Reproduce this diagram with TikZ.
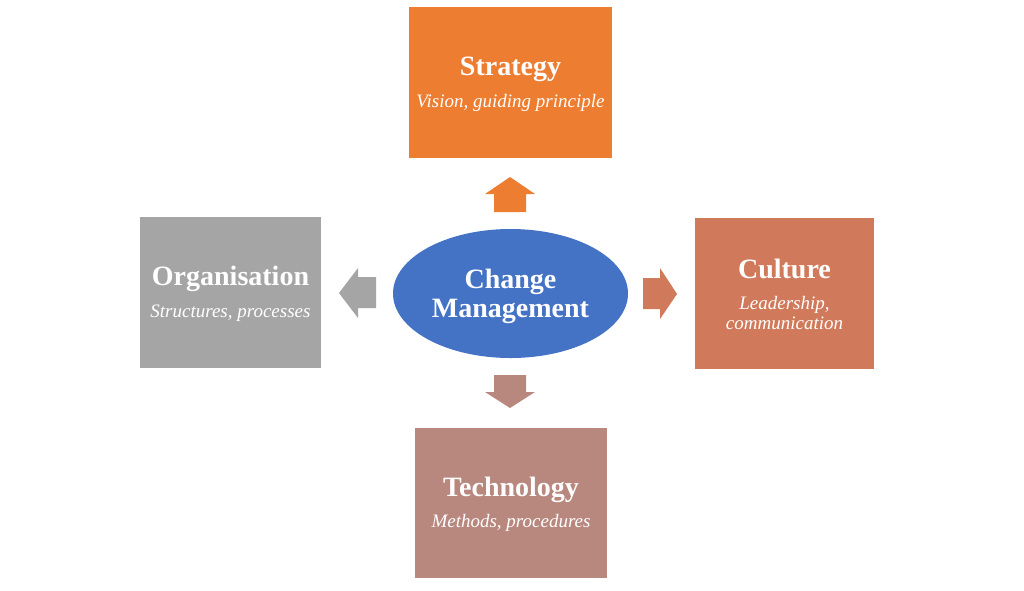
\documentclass[tikz,border=0pt]{standalone}
\usepackage{fontspec}
\setmainfont{Liberation Serif}
\usetikzlibrary{shapes.geometric}
\definecolor{cStrat}{HTML}{ED7D31}
\definecolor{cOrg}{HTML}{A5A5A5}
\definecolor{cCult}{HTML}{D07A5B}
\definecolor{cTech}{HTML}{B8887F}
\definecolor{cBlue}{HTML}{4472C4}
\tikzset{
  boxnode/.style={rectangle, inner sep=0pt, outer sep=0pt, draw=none},
  titletext/.style={anchor=base, text=white, inner sep=0pt, font=\fontsize{28}{30}\selectfont\bfseries},
  subtext/.style={anchor=base, text=white, inner sep=0pt, font=\fontsize{19}{20}\selectfont\itshape},
}
\begin{document}
\begin{tikzpicture}[x=1pt,y=-1pt]
\useasboundingbox (0,0) rectangle (1024,590);
\fill[white] (0,0) rectangle (1024,590);
% boxes
\node[boxnode, fill=cStrat, minimum width=203pt, minimum height=151pt] (strat) at (510.5,82.5) {};
\node[boxnode, fill=cOrg, minimum width=181pt, minimum height=151pt] (org) at (230.5,292.5) {};
\node[boxnode, fill=cCult, minimum width=179pt, minimum height=151pt] (cult) at (784.5,293.5) {};
\node[boxnode, fill=cTech, minimum width=192pt, minimum height=150pt] (tech) at (511,503) {};
\node[ellipse, fill=cBlue, inner sep=0pt, minimum width=235pt, minimum height=129pt] (cm) at (510.5,293.5) {};
% texts
\node[titletext] (stratT) at (510.5,75.5) {Strategy};
\node[subtext] (stratS) at (510.5,107.5) {Vision, guiding principle};
\node[titletext] (orgT) at (230.5,285.5) {Organisation};
\node[subtext] (orgS) at (230.5,317.5) {Structures, processes};
\node[titletext] (cultT) at (784.5,278.5) {Culture};
\node[subtext] (cultS1) at (784.5,309) {Leadership,};
\node[subtext] (cultS2) at (784.5,329.5) {communication};
\node[titletext] (techT) at (511,496.5) {Technology};
\node[subtext] (techS) at (511,527.5) {Methods, procedures};
\node[titletext] (cmT1) at (510.5,288) {Change};
\node[titletext] (cmT2) at (510.5,317) {Management};
% block arrows
\fill[cStrat] (510,177) -- (535,194) -- (526,194) -- (526,212) -- (494,212) -- (494,194) -- (485,194) -- cycle;
\fill[cTech] (510,408) -- (535,392) -- (526,392) -- (526,375) -- (494,375) -- (494,392) -- (485,392) -- cycle;
\fill[cOrg] (339,293) -- (358,268) -- (358,277) -- (376,277) -- (376,308) -- (358,308) -- (358,318) -- cycle;
\fill[cCult] (677,294) -- (660,268) -- (660,278) -- (643,278) -- (643,309) -- (660,309) -- (660,319) -- cycle;
\end{tikzpicture}
\end{document}
